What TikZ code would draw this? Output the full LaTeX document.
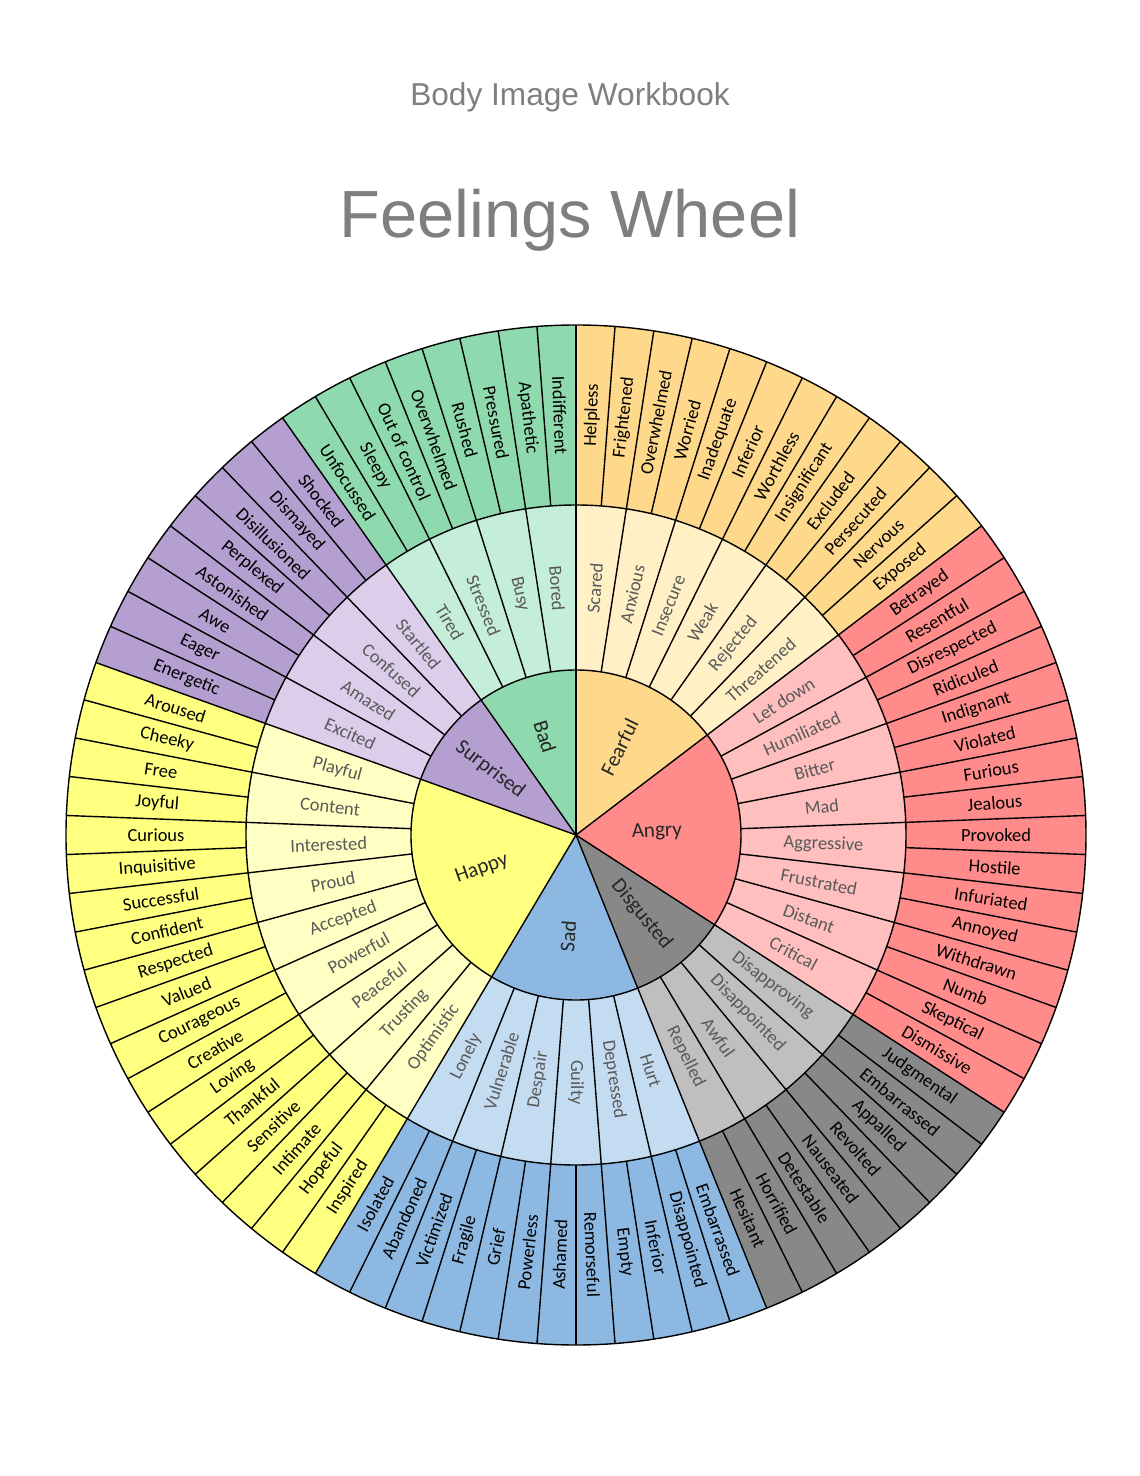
\documentclass[tikz,border=0pt]{standalone}
\usepackage{fontspec}
\setmainfont{Carlito}
\newfontfamily\headfont{Liberation Sans}

\definecolor{fearful}{HTML}{FFD98B}
\definecolor{fearfulMid}{HTML}{FFF0C5}
\definecolor{angry}{HTML}{FF8B8B}
\definecolor{angryMid}{HTML}{FFBFBF}
\definecolor{disgusted}{HTML}{888888}
\definecolor{disgustedMid}{HTML}{BFBFBF}
\definecolor{sad}{HTML}{8DB8E2}
\definecolor{sadMid}{HTML}{C4DCF2}
\definecolor{happy}{HTML}{FFFF80}
\definecolor{happyMid}{HTML}{FFFFC4}
\definecolor{surprised}{HTML}{B49FD0}
\definecolor{surprisedMid}{HTML}{DCCEEA}
\definecolor{bad}{HTML}{8FD9AE}
\definecolor{badMid}{HTML}{C4EEDA}
\definecolor{headgray}{HTML}{7F7F7F}
\definecolor{midtext}{HTML}{595959}
\definecolor{coretext}{HTML}{262626}

\begin{document}
\begin{tikzpicture}[
    leaf/.style={font=\fontsize{10.5}{12}\selectfont, text=black, inner sep=0pt},
    twig/.style={font=\fontsize{10.5}{12}\selectfont, text=midtext, inner sep=0pt},
    core/.style={font=\fontsize{12}{14}\selectfont, text=coretext, inner sep=0pt},
    edge/.style={line width=0.8pt}
  ]
      \useasboundingbox (-11.52,-12.82) rectangle (11.28,16.7);

      \def\rIn{3.3}
      \def\rMid{6.6}
      \def\rOut{10.2}
      \def\leafang{4.390244}

      % Judul
      \node[font=\headfont\fontsize{18}{22}\selectfont, text=headgray] (workbook) at (-0.12,14.76) {Body Image Workbook};
      \node[font=\headfont\fontsize{38}{44}\selectfont, text=headgray] (title) at (-0.12,12.3) {Feelings Wheel};

      % Sektor per kelompok (daun awal/akhir)
      \foreach \s/\e/\cl/\cm in {0/12/fearful/fearfulMid, 12/28/angry/angryMid,
          28/36/disgusted/disgustedMid, 36/48/sad/sadMid, 48/66/happy/happyMid,
          66/74/surprised/surprisedMid, 74/82/bad/badMid}
        {
          \pgfmathsetmacro\aS{90-\s*\leafang}
          \pgfmathsetmacro\aE{90-\e*\leafang}
          \fill[\cl] (0,0) -- (\aS:\rIn) arc(\aS:\aE:\rIn) -- cycle;
          \fill[\cm] (\aS:\rIn) arc(\aS:\aE:\rIn) -- (\aE:\rMid) arc(\aE:\aS:\rMid) -- cycle;
          \fill[\cl] (\aS:\rMid) arc(\aS:\aE:\rMid) -- (\aE:\rOut) arc(\aE:\aS:\rOut) -- cycle;
        }

      % Garis batas
      \foreach \i in {0,...,81}
        {
          \pgfmathsetmacro\a{90-\i*\leafang}
          \draw[edge] (\a:\rMid) -- (\a:\rOut);
        }
      \foreach \i in {0,...,40}
        {
          \pgfmathsetmacro\a{90-2*\i*\leafang}
          \draw[edge] (\a:\rIn) -- (\a:\rMid);
        }
      \foreach \i in {0,12,28,36,48,66,74}
        {
          \pgfmathsetmacro\a{90-\i*\leafang}
          \draw[edge] (0,0) -- (\a:\rIn);
        }
      \draw[edge] (0,0) circle (\rIn);
      \draw[edge] (0,0) circle (\rMid);
      \draw[edge] (0,0) circle (\rOut);

      % Label luar
      \foreach \txt [count=\i] in {Helpless, Frightened, Overwhelmed, Worried, Inadequate, Inferior,
          Worthless, Insignificant, Excluded, Persecuted, Nervous, Exposed,
          Betrayed, Resentful, Disrespected, Ridiculed, Indignant, Violated, Furious, Jealous,
          Provoked, Hostile, Infuriated, Annoyed, Withdrawn, Numb, Skeptical, Dismissive,
          Judgmental, Embarrassed, Appalled, Revolted, Nauseated, Detestable, Horrified, Hesitant,
          Embarrassed, Disappointed, Inferior, Empty, Remorseful, Ashamed, Powerless, Grief,
          Fragile, Victimized, Abandoned, Isolated,
          Inspired, Hopeful, Intimate, Sensitive, Thankful, Loving, Creative, Courageous, Valued,
          Respected, Confident, Successful, Inquisitive, Curious, Joyful, Free, Cheeky, Aroused,
          Energetic, Eager, Awe, Astonished, Perplexed, Disillusioned, Dismayed, Shocked,
          Unfocussed, Sleepy, Out of control, Overwhelmed, Rushed, Pressured, Apathetic, Indifferent}
        {
          \pgfmathsetmacro\a{90-(\i-0.5)*\leafang}
          \pgfmathsetmacro\rot{cos(\a) > -0.01 ? \a : \a+180}
          \node[leaf, rotate=\rot] (leaf-\i) at (\a:8.4) {\txt};
        }

      % Label tengah
      \foreach \txt [count=\i] in {Scared, Anxious, Insecure, Weak, Rejected, Threatened,
          Let down, Humiliated, Bitter, Mad, Aggressive, Frustrated, Distant, Critical,
          Disapproving, Disappointed, Awful, Repelled,
          Hurt, Depressed, Guilty, Despair, Vulnerable, Lonely,
          Optimistic, Trusting, Peaceful, Powerful, Accepted, Proud, Interested, Content, Playful,
          Excited, Amazed, Confused, Startled,
          Tired, Stressed, Busy, Bored}
        {
          \pgfmathsetmacro\a{90-(2*\i-1)*\leafang}
          \pgfmathsetmacro\rot{cos(\a) > -0.01 ? \a : \a+180}
          \node[twig, rotate=\rot] (twig-\i) at (\a:4.95) {\txt};
        }

      % Label inti
      \foreach \txt/\k/\r in {Fearful/6/1.96, Angry/20/1.62, Disgusted/32/2.06, Sad/42/2.04,
          Happy/57/2.0, Surprised/70/2.16, Bad/78/2.06}
        {
          \pgfmathsetmacro\a{90-\k*\leafang}
          \pgfmathsetmacro\rot{cos(\a) > -0.01 ? \a : \a+180}
          \node[core, rotate=\rot] (core-\txt) at (\a:\r) {\txt};
        }
    \end{tikzpicture}
\end{document}
